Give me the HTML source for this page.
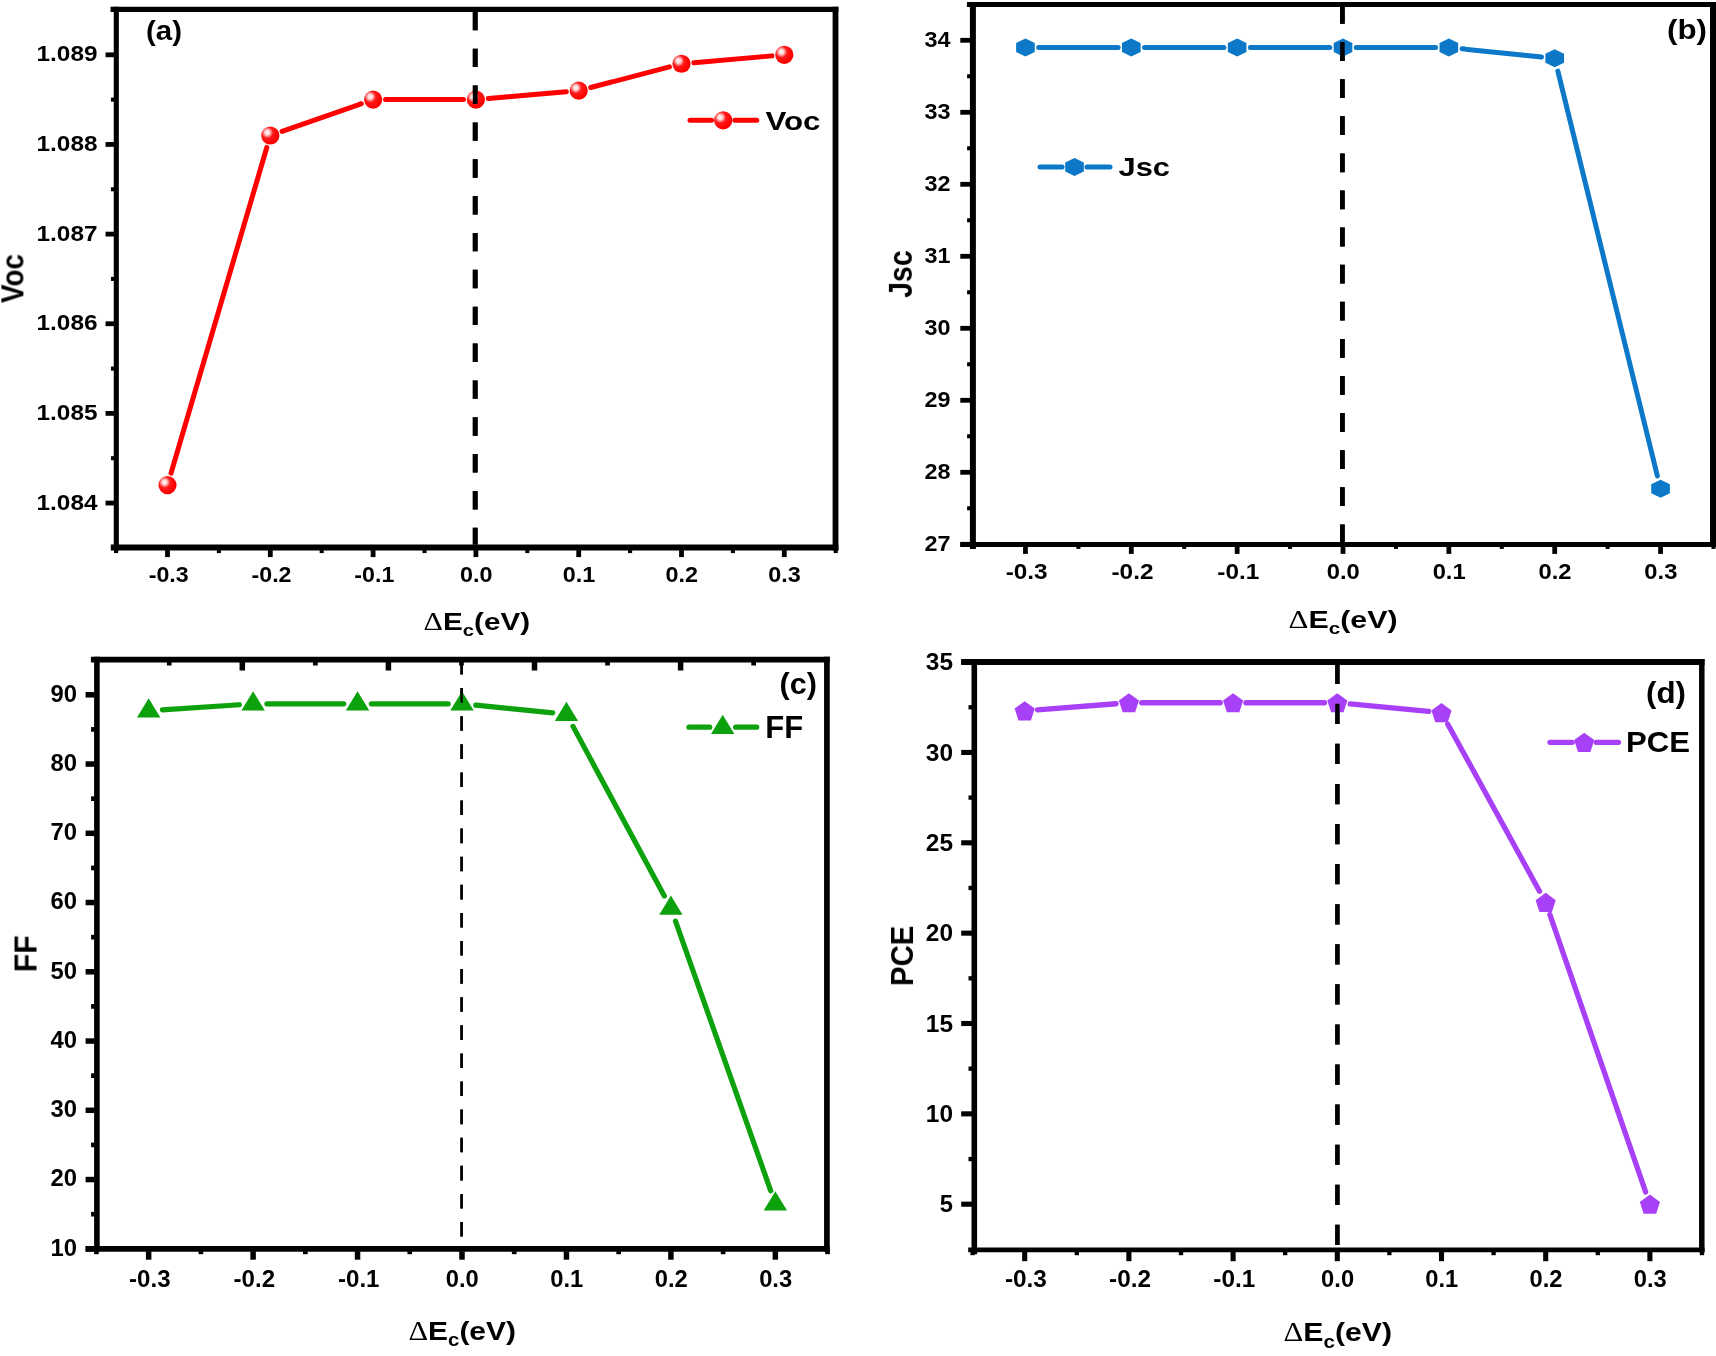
<!DOCTYPE html>
<html><head><meta charset="utf-8"><title>Voc, Jsc, FF and PCE versus conduction band offset</title>
<style>html,body{margin:0;padding:0;background:#fff}body{width:1716px;height:1356px;overflow:hidden}svg{display:block}</style>
</head><body>
<svg width="1716" height="1356" viewBox="0 0 1716 1356" font-family='"Liberation Sans", sans-serif' fill="#000">
<defs><radialGradient id="ball" cx="0.34" cy="0.34" r="0.62" fx="0.34" fy="0.34">
<stop offset="0" stop-color="#ffffff"/><stop offset="0.22" stop-color="#ffd0d0"/><stop offset="0.5" stop-color="#ff1a1a"/><stop offset="1" stop-color="#ff0000"/></radialGradient>
<filter id="soft" x="0" y="0" width="1716" height="1356" filterUnits="userSpaceOnUse"><feGaussianBlur stdDeviation="0.55"/></filter></defs>
<rect width="1716" height="1356" fill="#fff"/>
<g filter="url(#soft)">
<line x1="475.20" y1="11.55" x2="475.20" y2="544.60" stroke="#000" stroke-width="4.8" stroke-dasharray="18.4 18.46" stroke-dashoffset="-0.25"/>
<line x1="171.01" y1="473.18" x2="266.79" y2="147.43" stroke="#ff0000" stroke-width="5.0" stroke-linecap="round"/>
<line x1="282.06" y1="131.38" x2="361.34" y2="103.73" stroke="#ff0000" stroke-width="5.0" stroke-linecap="round"/>
<line x1="385.55" y1="99.62" x2="463.45" y2="99.62" stroke="#ff0000" stroke-width="5.0" stroke-linecap="round"/>
<line x1="488.30" y1="98.54" x2="566.30" y2="91.74" stroke="#ff0000" stroke-width="5.0" stroke-linecap="round"/>
<line x1="590.74" y1="87.51" x2="669.46" y2="66.92" stroke="#ff0000" stroke-width="5.0" stroke-linecap="round"/>
<line x1="693.90" y1="62.68" x2="771.90" y2="55.88" stroke="#ff0000" stroke-width="5.0" stroke-linecap="round"/>
<circle cx="167.50" cy="485.12" r="9.10" fill="url(#ball)"/>
<circle cx="270.30" cy="135.48" r="9.10" fill="url(#ball)"/>
<circle cx="373.10" cy="99.62" r="9.10" fill="url(#ball)"/>
<circle cx="475.90" cy="99.62" r="9.10" fill="url(#ball)"/>
<circle cx="578.70" cy="90.66" r="9.10" fill="url(#ball)"/>
<circle cx="681.50" cy="63.76" r="9.10" fill="url(#ball)"/>
<circle cx="784.30" cy="54.80" r="9.10" fill="url(#ball)"/>
<line x1="475.20" y1="11.55" x2="475.20" y2="544.60" stroke="#000" stroke-width="4.8" stroke-dasharray="18.4 18.46" stroke-dashoffset="-0.25"/>
<line x1="116.30" y1="6.85" x2="116.30" y2="550.60" stroke="#000" stroke-width="5.1" />
<line x1="835.50" y1="6.85" x2="835.50" y2="550.60" stroke="#000" stroke-width="5.8" />
<line x1="110.55" y1="9.45" x2="838.40" y2="9.45" stroke="#000" stroke-width="5.2" />
<line x1="110.75" y1="547.60" x2="838.40" y2="547.60" stroke="#000" stroke-width="6" />
<line x1="105.55" y1="503.05" x2="114.25" y2="503.05" stroke="#000" stroke-width="4.8" />
<line x1="105.55" y1="413.40" x2="114.25" y2="413.40" stroke="#000" stroke-width="4.8" />
<line x1="105.55" y1="323.75" x2="114.25" y2="323.75" stroke="#000" stroke-width="4.8" />
<line x1="105.55" y1="234.10" x2="114.25" y2="234.10" stroke="#000" stroke-width="4.8" />
<line x1="105.55" y1="144.45" x2="114.25" y2="144.45" stroke="#000" stroke-width="4.8" />
<line x1="105.55" y1="54.80" x2="114.25" y2="54.80" stroke="#000" stroke-width="4.8" />
<line x1="110.95" y1="458.22" x2="114.25" y2="458.22" stroke="#000" stroke-width="4.08" />
<line x1="110.95" y1="368.58" x2="114.25" y2="368.58" stroke="#000" stroke-width="4.08" />
<line x1="110.95" y1="278.92" x2="114.25" y2="278.92" stroke="#000" stroke-width="4.08" />
<line x1="110.95" y1="189.28" x2="114.25" y2="189.28" stroke="#000" stroke-width="4.08" />
<line x1="110.95" y1="99.62" x2="114.25" y2="99.62" stroke="#000" stroke-width="4.08" />
<line x1="167.50" y1="550.10" x2="167.50" y2="557.10" stroke="#000" stroke-width="4.8" />
<line x1="270.30" y1="550.10" x2="270.30" y2="557.10" stroke="#000" stroke-width="4.8" />
<line x1="373.10" y1="550.10" x2="373.10" y2="557.10" stroke="#000" stroke-width="4.8" />
<line x1="475.90" y1="550.10" x2="475.90" y2="557.10" stroke="#000" stroke-width="4.8" />
<line x1="578.70" y1="550.10" x2="578.70" y2="557.10" stroke="#000" stroke-width="4.8" />
<line x1="681.50" y1="550.10" x2="681.50" y2="557.10" stroke="#000" stroke-width="4.8" />
<line x1="784.30" y1="550.10" x2="784.30" y2="557.10" stroke="#000" stroke-width="4.8" />
<line x1="116.10" y1="550.10" x2="116.10" y2="553.10" stroke="#000" stroke-width="4.08" />
<line x1="218.90" y1="550.10" x2="218.90" y2="553.10" stroke="#000" stroke-width="4.08" />
<line x1="321.70" y1="550.10" x2="321.70" y2="553.10" stroke="#000" stroke-width="4.08" />
<line x1="424.50" y1="550.10" x2="424.50" y2="553.10" stroke="#000" stroke-width="4.08" />
<line x1="527.30" y1="550.10" x2="527.30" y2="553.10" stroke="#000" stroke-width="4.08" />
<line x1="630.10" y1="550.10" x2="630.10" y2="553.10" stroke="#000" stroke-width="4.08" />
<line x1="732.90" y1="550.10" x2="732.90" y2="553.10" stroke="#000" stroke-width="4.08" />
<line x1="835.70" y1="550.10" x2="835.70" y2="553.10" stroke="#000" stroke-width="4.08" />
<text transform="translate(36.50,509.52) scale(1.0931,1)" font-size="22.3" font-weight="bold" >1.084</text>
<text transform="translate(36.50,419.87) scale(1.0931,1)" font-size="22.3" font-weight="bold" >1.085</text>
<text transform="translate(36.50,330.22) scale(1.0931,1)" font-size="22.3" font-weight="bold" >1.086</text>
<text transform="translate(36.50,240.57) scale(1.0931,1)" font-size="22.3" font-weight="bold" >1.087</text>
<text transform="translate(36.50,150.92) scale(1.0931,1)" font-size="22.3" font-weight="bold" >1.088</text>
<text transform="translate(36.50,61.27) scale(1.0931,1)" font-size="22.3" font-weight="bold" >1.089</text>
<text transform="translate(148.70,582.40) scale(1.0410,1)" font-size="22.3" font-weight="bold" >-0.3</text>
<text transform="translate(251.50,582.40) scale(1.0410,1)" font-size="22.3" font-weight="bold" >-0.2</text>
<text transform="translate(354.30,582.40) scale(1.0410,1)" font-size="22.3" font-weight="bold" >-0.1</text>
<text transform="translate(459.95,582.40) scale(1.0484,1)" font-size="22.3" font-weight="bold" >0.0</text>
<text transform="translate(562.75,582.40) scale(1.0484,1)" font-size="22.3" font-weight="bold" >0.1</text>
<text transform="translate(665.55,582.40) scale(1.0484,1)" font-size="22.3" font-weight="bold" >0.2</text>
<text transform="translate(768.35,582.40) scale(1.0484,1)" font-size="22.3" font-weight="bold" >0.3</text>
<text transform="translate(423.60,629.50) scale(1.2096,1)" font-size="24.5" font-weight="bold"><tspan font-family="'Liberation Serif', serif" font-weight="normal" font-size="25.0">Δ</tspan><tspan>E</tspan><tspan font-size="16.7" dy="6.1">c</tspan><tspan dy="-6.1">(eV)</tspan></text>
<text transform="translate(23.50,278.50) scale(1.115,1) rotate(-90)" font-size="27.8" font-weight="bold" text-anchor="middle">Voc</text>
<line x1="690.00" y1="120.30" x2="711.55" y2="120.30" stroke="#ff0000" stroke-width="5.0" stroke-linecap="round"/>
<line x1="734.85" y1="120.30" x2="756.80" y2="120.30" stroke="#ff0000" stroke-width="5.0" stroke-linecap="round"/>
<circle cx="723.20" cy="120.30" r="9.10" fill="url(#ball)"/>
<text transform="translate(765.50,129.60) scale(1.2256,1)" font-size="25.5" font-weight="bold" >Voc</text>
<text transform="translate(146.00,40.00) scale(1.0991,1)" font-size="26.8" font-weight="bold" >(a)</text>
<line x1="1342.40" y1="6.50" x2="1342.40" y2="541.90" stroke="#000" stroke-width="4.6" stroke-dasharray="18.8 18.3" stroke-dashoffset="1.50"/>
<line x1="1038.70" y1="47.50" x2="1118.05" y2="47.50" stroke="#0878c8" stroke-width="5.0" stroke-linecap="round"/>
<line x1="1144.55" y1="47.50" x2="1223.90" y2="47.50" stroke="#0878c8" stroke-width="5.0" stroke-linecap="round"/>
<line x1="1250.40" y1="47.50" x2="1329.75" y2="47.50" stroke="#0878c8" stroke-width="5.0" stroke-linecap="round"/>
<line x1="1356.25" y1="47.50" x2="1435.60" y2="47.50" stroke="#0878c8" stroke-width="5.0" stroke-linecap="round"/>
<line x1="1462.03" y1="48.84" x2="1541.52" y2="56.96" stroke="#0878c8" stroke-width="5.0" stroke-linecap="round"/>
<line x1="1557.86" y1="71.17" x2="1657.39" y2="475.99" stroke="#0878c8" stroke-width="5.0" stroke-linecap="round"/>
<polygon points="1025.45,38.50 1034.75,43.00 1034.75,52.00 1025.45,56.50 1016.15,52.00 1016.15,43.00" fill="#0878c8"/>
<polygon points="1131.30,38.50 1140.60,43.00 1140.60,52.00 1131.30,56.50 1122.00,52.00 1122.00,43.00" fill="#0878c8"/>
<polygon points="1237.15,38.50 1246.45,43.00 1246.45,52.00 1237.15,56.50 1227.85,52.00 1227.85,43.00" fill="#0878c8"/>
<polygon points="1343.00,38.50 1352.30,43.00 1352.30,52.00 1343.00,56.50 1333.70,52.00 1333.70,43.00" fill="#0878c8"/>
<polygon points="1448.85,38.50 1458.15,43.00 1458.15,52.00 1448.85,56.50 1439.55,52.00 1439.55,43.00" fill="#0878c8"/>
<polygon points="1554.70,49.30 1564.00,53.80 1564.00,62.80 1554.70,67.30 1545.40,62.80 1545.40,53.80" fill="#0878c8"/>
<polygon points="1660.55,479.86 1669.85,484.36 1669.85,493.36 1660.55,497.86 1651.25,493.36 1651.25,484.36" fill="#0878c8"/>
<line x1="1342.40" y1="6.50" x2="1342.40" y2="541.90" stroke="#000" stroke-width="4.6" stroke-dasharray="18.8 18.3" stroke-dashoffset="1.50"/>
<line x1="972.90" y1="2.00" x2="972.90" y2="548.90" stroke="#000" stroke-width="6.0" />
<line x1="1713.00" y1="2.00" x2="1713.00" y2="546.90" stroke="#000" stroke-width="6" />
<line x1="966.90" y1="4.50" x2="1716.00" y2="4.50" stroke="#000" stroke-width="5" />
<line x1="960.30" y1="544.40" x2="1716.00" y2="544.40" stroke="#000" stroke-width="5" />
<line x1="960.30" y1="544.30" x2="970.40" y2="544.30" stroke="#000" stroke-width="4.8" />
<line x1="960.30" y1="472.30" x2="970.40" y2="472.30" stroke="#000" stroke-width="4.8" />
<line x1="960.30" y1="400.30" x2="970.40" y2="400.30" stroke="#000" stroke-width="4.8" />
<line x1="960.30" y1="328.30" x2="970.40" y2="328.30" stroke="#000" stroke-width="4.8" />
<line x1="960.30" y1="256.30" x2="970.40" y2="256.30" stroke="#000" stroke-width="4.8" />
<line x1="960.30" y1="184.30" x2="970.40" y2="184.30" stroke="#000" stroke-width="4.8" />
<line x1="960.30" y1="112.30" x2="970.40" y2="112.30" stroke="#000" stroke-width="4.8" />
<line x1="960.30" y1="40.30" x2="970.40" y2="40.30" stroke="#000" stroke-width="4.8" />
<line x1="967.10" y1="508.30" x2="970.40" y2="508.30" stroke="#000" stroke-width="4.08" />
<line x1="967.10" y1="436.30" x2="970.40" y2="436.30" stroke="#000" stroke-width="4.08" />
<line x1="967.10" y1="364.30" x2="970.40" y2="364.30" stroke="#000" stroke-width="4.08" />
<line x1="967.10" y1="292.30" x2="970.40" y2="292.30" stroke="#000" stroke-width="4.08" />
<line x1="967.10" y1="220.30" x2="970.40" y2="220.30" stroke="#000" stroke-width="4.08" />
<line x1="967.10" y1="148.30" x2="970.40" y2="148.30" stroke="#000" stroke-width="4.08" />
<line x1="967.10" y1="76.30" x2="970.40" y2="76.30" stroke="#000" stroke-width="4.08" />
<line x1="1025.45" y1="546.40" x2="1025.45" y2="553.90" stroke="#000" stroke-width="4.8" />
<line x1="1131.30" y1="546.40" x2="1131.30" y2="553.90" stroke="#000" stroke-width="4.8" />
<line x1="1237.15" y1="546.40" x2="1237.15" y2="553.90" stroke="#000" stroke-width="4.8" />
<line x1="1343.00" y1="546.40" x2="1343.00" y2="553.90" stroke="#000" stroke-width="4.8" />
<line x1="1448.85" y1="546.40" x2="1448.85" y2="553.90" stroke="#000" stroke-width="4.8" />
<line x1="1554.70" y1="546.40" x2="1554.70" y2="553.90" stroke="#000" stroke-width="4.8" />
<line x1="1660.55" y1="546.40" x2="1660.55" y2="553.90" stroke="#000" stroke-width="4.8" />
<line x1="972.53" y1="546.40" x2="972.53" y2="548.90" stroke="#000" stroke-width="4.08" />
<line x1="1078.38" y1="546.40" x2="1078.38" y2="548.90" stroke="#000" stroke-width="4.08" />
<line x1="1184.22" y1="546.40" x2="1184.22" y2="548.90" stroke="#000" stroke-width="4.08" />
<line x1="1290.08" y1="546.40" x2="1290.08" y2="548.90" stroke="#000" stroke-width="4.08" />
<line x1="1395.92" y1="546.40" x2="1395.92" y2="548.90" stroke="#000" stroke-width="4.08" />
<line x1="1501.78" y1="546.40" x2="1501.78" y2="548.90" stroke="#000" stroke-width="4.08" />
<line x1="1607.62" y1="546.40" x2="1607.62" y2="548.90" stroke="#000" stroke-width="4.08" />
<line x1="1713.47" y1="546.40" x2="1713.47" y2="548.90" stroke="#000" stroke-width="4.08" />
<text transform="translate(924.50,550.87) scale(1.0343,1)" font-size="22.6" font-weight="bold" >27</text>
<text transform="translate(924.50,478.87) scale(1.0343,1)" font-size="22.6" font-weight="bold" >28</text>
<text transform="translate(924.50,406.87) scale(1.0343,1)" font-size="22.6" font-weight="bold" >29</text>
<text transform="translate(924.50,334.87) scale(1.0343,1)" font-size="22.6" font-weight="bold" >30</text>
<text transform="translate(924.50,262.87) scale(1.0343,1)" font-size="22.6" font-weight="bold" >31</text>
<text transform="translate(924.50,190.87) scale(1.0343,1)" font-size="22.6" font-weight="bold" >32</text>
<text transform="translate(924.50,118.87) scale(1.0343,1)" font-size="22.6" font-weight="bold" >33</text>
<text transform="translate(924.50,46.87) scale(1.0343,1)" font-size="22.6" font-weight="bold" >34</text>
<text transform="translate(1005.65,579.40) scale(1.0785,1)" font-size="22.6" font-weight="bold" >-0.3</text>
<text transform="translate(1111.50,579.40) scale(1.0785,1)" font-size="22.6" font-weight="bold" >-0.2</text>
<text transform="translate(1217.35,579.40) scale(1.0785,1)" font-size="22.6" font-weight="bold" >-0.1</text>
<text transform="translate(1326.80,579.40) scale(1.0504,1)" font-size="22.6" font-weight="bold" >0.0</text>
<text transform="translate(1432.65,579.40) scale(1.0504,1)" font-size="22.6" font-weight="bold" >0.1</text>
<text transform="translate(1538.50,579.40) scale(1.0504,1)" font-size="22.6" font-weight="bold" >0.2</text>
<text transform="translate(1644.35,579.40) scale(1.0504,1)" font-size="22.6" font-weight="bold" >0.3</text>
<text transform="translate(1288.50,628.20) scale(1.2392,1)" font-size="24.5" font-weight="bold"><tspan font-family="'Liberation Serif', serif" font-weight="normal" font-size="25.0">Δ</tspan><tspan>E</tspan><tspan font-size="16.7" dy="6.1">c</tspan><tspan dy="-6.1">(eV)</tspan></text>
<text transform="translate(912.30,274.10) scale(1.157,1) rotate(-90)" font-size="28.4" font-weight="bold" text-anchor="middle">Jsc</text>
<line x1="1040.00" y1="167.00" x2="1062.05" y2="167.00" stroke="#0878c8" stroke-width="5.0" stroke-linecap="round"/>
<line x1="1086.95" y1="167.00" x2="1110.00" y2="167.00" stroke="#0878c8" stroke-width="5.0" stroke-linecap="round"/>
<polygon points="1074.50,158.00 1083.80,162.50 1083.80,171.50 1074.50,176.00 1065.20,171.50 1065.20,162.50" fill="#0878c8"/>
<text transform="translate(1118.50,175.80) scale(1.2105,1)" font-size="25.5" font-weight="bold" >Jsc</text>
<text transform="translate(1667.00,39.30) scale(1.1689,1)" font-size="26.8" font-weight="bold" >(b)</text>
<line x1="461.60" y1="662.00" x2="461.60" y2="1245.90" stroke="#000" stroke-width="2.4" stroke-dasharray="14.6 13.5" stroke-dashoffset="2.00"/>
<line x1="162.44" y1="709.81" x2="239.31" y2="704.72" stroke="#0da10d" stroke-width="5.2" stroke-linecap="round"/>
<line x1="266.92" y1="703.80" x2="343.73" y2="703.80" stroke="#0da10d" stroke-width="5.2" stroke-linecap="round"/>
<line x1="371.37" y1="703.80" x2="448.18" y2="703.80" stroke="#0da10d" stroke-width="5.2" stroke-linecap="round"/>
<line x1="475.75" y1="705.17" x2="552.70" y2="712.82" stroke="#0da10d" stroke-width="5.2" stroke-linecap="round"/>
<line x1="573.00" y1="726.36" x2="664.35" y2="895.92" stroke="#0da10d" stroke-width="5.2" stroke-linecap="round"/>
<line x1="675.50" y1="921.12" x2="770.75" y2="1190.76" stroke="#0da10d" stroke-width="5.2" stroke-linecap="round"/>
<polygon points="148.65,698.25 160.35,717.45 136.95,717.45" fill="#0da10d"/>
<polygon points="253.10,691.32 264.80,710.52 241.40,710.52" fill="#0da10d"/>
<polygon points="357.55,691.32 369.25,710.52 345.85,710.52" fill="#0da10d"/>
<polygon points="462.00,691.32 473.70,710.52 450.30,710.52" fill="#0da10d"/>
<polygon points="566.45,701.71 578.15,720.91 554.75,720.91" fill="#0da10d"/>
<polygon points="670.90,895.61 682.60,914.81 659.20,914.81" fill="#0da10d"/>
<polygon points="775.35,1191.31 787.05,1210.51 763.65,1210.51" fill="#0da10d"/>
<line x1="461.60" y1="662.00" x2="461.60" y2="1245.90" stroke="#000" stroke-width="2.4" stroke-dasharray="14.6 13.5" stroke-dashoffset="2.00"/>
<line x1="96.90" y1="656.70" x2="96.90" y2="1251.70" stroke="#000" stroke-width="5.6" />
<line x1="826.90" y1="656.70" x2="826.90" y2="1251.70" stroke="#000" stroke-width="5.7" />
<line x1="90.90" y1="659.60" x2="829.75" y2="659.60" stroke="#000" stroke-width="5.8" />
<line x1="85.60" y1="1248.80" x2="829.75" y2="1248.80" stroke="#000" stroke-width="5.8" />
<line x1="85.60" y1="1248.80" x2="94.60" y2="1248.80" stroke="#000" stroke-width="5.5" />
<line x1="85.60" y1="1179.55" x2="94.60" y2="1179.55" stroke="#000" stroke-width="5.5" />
<line x1="85.60" y1="1110.30" x2="94.60" y2="1110.30" stroke="#000" stroke-width="5.5" />
<line x1="85.60" y1="1041.05" x2="94.60" y2="1041.05" stroke="#000" stroke-width="5.5" />
<line x1="85.60" y1="971.80" x2="94.60" y2="971.80" stroke="#000" stroke-width="5.5" />
<line x1="85.60" y1="902.55" x2="94.60" y2="902.55" stroke="#000" stroke-width="5.5" />
<line x1="85.60" y1="833.30" x2="94.60" y2="833.30" stroke="#000" stroke-width="5.5" />
<line x1="85.60" y1="764.05" x2="94.60" y2="764.05" stroke="#000" stroke-width="5.5" />
<line x1="85.60" y1="694.80" x2="94.60" y2="694.80" stroke="#000" stroke-width="5.5" />
<line x1="91.10" y1="1214.17" x2="94.60" y2="1214.17" stroke="#000" stroke-width="4.675" />
<line x1="91.10" y1="1144.92" x2="94.60" y2="1144.92" stroke="#000" stroke-width="4.675" />
<line x1="91.10" y1="1075.67" x2="94.60" y2="1075.67" stroke="#000" stroke-width="4.675" />
<line x1="91.10" y1="1006.42" x2="94.60" y2="1006.42" stroke="#000" stroke-width="4.675" />
<line x1="91.10" y1="937.17" x2="94.60" y2="937.17" stroke="#000" stroke-width="4.675" />
<line x1="91.10" y1="867.92" x2="94.60" y2="867.92" stroke="#000" stroke-width="4.675" />
<line x1="91.10" y1="798.67" x2="94.60" y2="798.67" stroke="#000" stroke-width="4.675" />
<line x1="91.10" y1="729.42" x2="94.60" y2="729.42" stroke="#000" stroke-width="4.675" />
<line x1="148.65" y1="1251.20" x2="148.65" y2="1259.70" stroke="#000" stroke-width="5.5" />
<line x1="253.10" y1="1251.20" x2="253.10" y2="1259.70" stroke="#000" stroke-width="5.5" />
<line x1="357.55" y1="1251.20" x2="357.55" y2="1259.70" stroke="#000" stroke-width="5.5" />
<line x1="462.00" y1="1251.20" x2="462.00" y2="1259.70" stroke="#000" stroke-width="5.5" />
<line x1="566.45" y1="1251.20" x2="566.45" y2="1259.70" stroke="#000" stroke-width="5.5" />
<line x1="670.90" y1="1251.20" x2="670.90" y2="1259.70" stroke="#000" stroke-width="5.5" />
<line x1="775.35" y1="1251.20" x2="775.35" y2="1259.70" stroke="#000" stroke-width="5.5" />
<line x1="96.43" y1="1251.20" x2="96.43" y2="1254.20" stroke="#000" stroke-width="4.675" />
<line x1="200.88" y1="1251.20" x2="200.88" y2="1254.20" stroke="#000" stroke-width="4.675" />
<line x1="305.33" y1="1251.20" x2="305.33" y2="1254.20" stroke="#000" stroke-width="4.675" />
<line x1="409.77" y1="1251.20" x2="409.77" y2="1254.20" stroke="#000" stroke-width="4.675" />
<line x1="514.23" y1="1251.20" x2="514.23" y2="1254.20" stroke="#000" stroke-width="4.675" />
<line x1="618.67" y1="1251.20" x2="618.67" y2="1254.20" stroke="#000" stroke-width="4.675" />
<line x1="723.12" y1="1251.20" x2="723.12" y2="1254.20" stroke="#000" stroke-width="4.675" />
<line x1="827.58" y1="1251.20" x2="827.58" y2="1254.20" stroke="#000" stroke-width="4.675" />
<line x1="169.25" y1="662.00" x2="169.25" y2="665.50" stroke="#000" stroke-width="4.675" />
<line x1="242.30" y1="662.00" x2="242.30" y2="670.50" stroke="#000" stroke-width="5.5" />
<line x1="315.35" y1="662.00" x2="315.35" y2="665.50" stroke="#000" stroke-width="4.675" />
<line x1="388.40" y1="662.00" x2="388.40" y2="670.50" stroke="#000" stroke-width="5.5" />
<line x1="461.45" y1="662.00" x2="461.45" y2="665.50" stroke="#000" stroke-width="4.675" />
<line x1="534.50" y1="662.00" x2="534.50" y2="670.50" stroke="#000" stroke-width="5.5" />
<line x1="607.55" y1="662.00" x2="607.55" y2="665.50" stroke="#000" stroke-width="4.675" />
<line x1="680.60" y1="662.00" x2="680.60" y2="670.50" stroke="#000" stroke-width="5.5" />
<line x1="753.65" y1="662.00" x2="753.65" y2="665.50" stroke="#000" stroke-width="4.675" />
<text transform="translate(50.50,1255.64) scale(0.9804,1)" font-size="24.3" font-weight="bold" >10</text>
<text transform="translate(50.50,1186.39) scale(0.9804,1)" font-size="24.3" font-weight="bold" >20</text>
<text transform="translate(50.50,1117.14) scale(0.9804,1)" font-size="24.3" font-weight="bold" >30</text>
<text transform="translate(50.50,1047.89) scale(0.9804,1)" font-size="24.3" font-weight="bold" >40</text>
<text transform="translate(50.50,978.64) scale(0.9804,1)" font-size="24.3" font-weight="bold" >50</text>
<text transform="translate(50.50,909.39) scale(0.9804,1)" font-size="24.3" font-weight="bold" >60</text>
<text transform="translate(50.50,840.14) scale(0.9804,1)" font-size="24.3" font-weight="bold" >70</text>
<text transform="translate(50.50,770.89) scale(0.9804,1)" font-size="24.3" font-weight="bold" >80</text>
<text transform="translate(50.50,701.64) scale(0.9804,1)" font-size="24.3" font-weight="bold" >90</text>
<text transform="translate(129.10,1286.70) scale(0.9911,1)" font-size="24.3" font-weight="bold" >-0.3</text>
<text transform="translate(233.55,1286.70) scale(0.9911,1)" font-size="24.3" font-weight="bold" >-0.2</text>
<text transform="translate(338.00,1286.70) scale(0.9911,1)" font-size="24.3" font-weight="bold" >-0.1</text>
<text transform="translate(445.80,1286.70) scale(0.9769,1)" font-size="24.3" font-weight="bold" >0.0</text>
<text transform="translate(550.25,1286.70) scale(0.9769,1)" font-size="24.3" font-weight="bold" >0.1</text>
<text transform="translate(654.70,1286.70) scale(0.9769,1)" font-size="24.3" font-weight="bold" >0.2</text>
<text transform="translate(759.15,1286.70) scale(0.9769,1)" font-size="24.3" font-weight="bold" >0.3</text>
<text transform="translate(408.40,1339.50) scale(1.1527,1)" font-size="26" font-weight="bold"><tspan font-family="'Liberation Serif', serif" font-weight="normal" font-size="26.5">Δ</tspan><tspan>E</tspan><tspan font-size="17.7" dy="6.5">c</tspan><tspan dy="-6.5">(eV)</tspan></text>
<text transform="translate(36.50,953.70) scale(1.035,1) rotate(-90)" font-size="30.1" font-weight="bold" text-anchor="middle">FF</text>
<line x1="688.98" y1="727.20" x2="709.68" y2="727.20" stroke="#0da10d" stroke-width="5.2" stroke-linecap="round"/>
<line x1="735.72" y1="727.20" x2="756.72" y2="727.20" stroke="#0da10d" stroke-width="5.2" stroke-linecap="round"/>
<polygon points="722.70,714.72 734.40,733.92 711.00,733.92" fill="#0da10d"/>
<text transform="translate(765.20,738.00) scale(1.0072,1)" font-size="30.8" font-weight="bold" >FF</text>
<text transform="translate(779.50,693.50) scale(1.0401,1)" font-size="29.5" font-weight="bold" >(c)</text>
<line x1="1337.40" y1="664.40" x2="1337.40" y2="1247.60" stroke="#000" stroke-width="4.3" stroke-dasharray="20.2 19.88" stroke-dashoffset="0.70"/>
<line x1="1037.52" y1="709.89" x2="1116.08" y2="703.76" stroke="#a840f8" stroke-width="5.3" stroke-linecap="round"/>
<line x1="1141.75" y1="702.76" x2="1220.24" y2="702.76" stroke="#a840f8" stroke-width="5.3" stroke-linecap="round"/>
<line x1="1245.95" y1="702.76" x2="1324.44" y2="702.76" stroke="#a840f8" stroke-width="5.3" stroke-linecap="round"/>
<line x1="1350.10" y1="703.98" x2="1428.70" y2="711.48" stroke="#a840f8" stroke-width="5.3" stroke-linecap="round"/>
<line x1="1447.69" y1="723.96" x2="1539.51" y2="891.16" stroke="#a840f8" stroke-width="5.3" stroke-linecap="round"/>
<line x1="1549.90" y1="914.58" x2="1645.70" y2="1192.05" stroke="#a840f8" stroke-width="5.3" stroke-linecap="round"/>
<polygon points="1024.70,701.29 1034.78,708.61 1030.93,720.46 1018.47,720.46 1014.62,708.61" fill="#a840f8"/>
<polygon points="1128.90,693.16 1138.98,700.48 1135.13,712.33 1122.67,712.33 1118.82,700.48" fill="#a840f8"/>
<polygon points="1233.10,693.16 1243.18,700.48 1239.33,712.33 1226.87,712.33 1223.02,700.48" fill="#a840f8"/>
<polygon points="1337.30,693.16 1347.38,700.48 1343.53,712.33 1331.07,712.33 1327.22,700.48" fill="#a840f8"/>
<polygon points="1441.50,703.10 1451.58,710.42 1447.73,722.27 1435.27,722.27 1431.42,710.42" fill="#a840f8"/>
<polygon points="1545.70,892.83 1555.78,900.16 1551.93,912.01 1539.47,912.01 1535.62,900.16" fill="#a840f8"/>
<polygon points="1649.90,1194.60 1659.98,1201.92 1656.13,1213.78 1643.67,1213.78 1639.82,1201.92" fill="#a840f8"/>
<line x1="1337.40" y1="664.40" x2="1337.40" y2="1247.60" stroke="#000" stroke-width="4.3" stroke-dasharray="20.2 19.88" stroke-dashoffset="0.70"/>
<line x1="974.30" y1="658.90" x2="974.30" y2="1254.20" stroke="#000" stroke-width="5.6" />
<line x1="1701.80" y1="658.90" x2="1701.80" y2="1252.20" stroke="#000" stroke-width="5.5" />
<line x1="961.20" y1="661.90" x2="1704.55" y2="661.90" stroke="#000" stroke-width="6" />
<line x1="968.20" y1="1249.90" x2="1704.55" y2="1249.90" stroke="#000" stroke-width="4.6" />
<line x1="961.20" y1="1204.20" x2="972.00" y2="1204.20" stroke="#000" stroke-width="5.1" />
<line x1="961.20" y1="1113.85" x2="972.00" y2="1113.85" stroke="#000" stroke-width="5.1" />
<line x1="961.20" y1="1023.50" x2="972.00" y2="1023.50" stroke="#000" stroke-width="5.1" />
<line x1="961.20" y1="933.15" x2="972.00" y2="933.15" stroke="#000" stroke-width="5.1" />
<line x1="961.20" y1="842.80" x2="972.00" y2="842.80" stroke="#000" stroke-width="5.1" />
<line x1="961.20" y1="752.45" x2="972.00" y2="752.45" stroke="#000" stroke-width="5.1" />
<line x1="961.20" y1="662.10" x2="972.00" y2="662.10" stroke="#000" stroke-width="5.1" />
<line x1="968.50" y1="1159.03" x2="972.00" y2="1159.03" stroke="#000" stroke-width="4.335" />
<line x1="968.50" y1="1068.67" x2="972.00" y2="1068.67" stroke="#000" stroke-width="4.335" />
<line x1="968.50" y1="978.33" x2="972.00" y2="978.33" stroke="#000" stroke-width="4.335" />
<line x1="968.50" y1="887.98" x2="972.00" y2="887.98" stroke="#000" stroke-width="4.335" />
<line x1="968.50" y1="797.62" x2="972.00" y2="797.62" stroke="#000" stroke-width="4.335" />
<line x1="968.50" y1="707.28" x2="972.00" y2="707.28" stroke="#000" stroke-width="4.335" />
<line x1="1024.70" y1="1251.70" x2="1024.70" y2="1261.20" stroke="#000" stroke-width="5.1" />
<line x1="1128.90" y1="1251.70" x2="1128.90" y2="1261.20" stroke="#000" stroke-width="5.1" />
<line x1="1233.10" y1="1251.70" x2="1233.10" y2="1261.20" stroke="#000" stroke-width="5.1" />
<line x1="1337.30" y1="1251.70" x2="1337.30" y2="1261.20" stroke="#000" stroke-width="5.1" />
<line x1="1441.50" y1="1251.70" x2="1441.50" y2="1261.20" stroke="#000" stroke-width="5.1" />
<line x1="1545.70" y1="1251.70" x2="1545.70" y2="1261.20" stroke="#000" stroke-width="5.1" />
<line x1="1649.90" y1="1251.70" x2="1649.90" y2="1261.20" stroke="#000" stroke-width="5.1" />
<line x1="972.60" y1="1251.70" x2="972.60" y2="1255.20" stroke="#000" stroke-width="4.335" />
<line x1="1076.80" y1="1251.70" x2="1076.80" y2="1255.20" stroke="#000" stroke-width="4.335" />
<line x1="1181.00" y1="1251.70" x2="1181.00" y2="1255.20" stroke="#000" stroke-width="4.335" />
<line x1="1285.20" y1="1251.70" x2="1285.20" y2="1255.20" stroke="#000" stroke-width="4.335" />
<line x1="1389.40" y1="1251.70" x2="1389.40" y2="1255.20" stroke="#000" stroke-width="4.335" />
<line x1="1493.60" y1="1251.70" x2="1493.60" y2="1255.20" stroke="#000" stroke-width="4.335" />
<line x1="1597.80" y1="1251.70" x2="1597.80" y2="1255.20" stroke="#000" stroke-width="4.335" />
<line x1="1702.00" y1="1251.70" x2="1702.00" y2="1255.20" stroke="#000" stroke-width="4.335" />
<text transform="translate(939.80,1212.34) scale(0.9889,1)" font-size="24" font-weight="bold" >5</text>
<text transform="translate(925.80,1121.99) scale(1.0189,1)" font-size="24" font-weight="bold" >10</text>
<text transform="translate(925.80,1031.64) scale(1.0189,1)" font-size="24" font-weight="bold" >15</text>
<text transform="translate(925.80,941.29) scale(1.0189,1)" font-size="24" font-weight="bold" >20</text>
<text transform="translate(925.80,850.94) scale(1.0189,1)" font-size="24" font-weight="bold" >25</text>
<text transform="translate(925.80,760.59) scale(1.0189,1)" font-size="24" font-weight="bold" >30</text>
<text transform="translate(925.80,670.24) scale(1.0189,1)" font-size="24" font-weight="bold" >35</text>
<text transform="translate(1004.90,1286.70) scale(1.0156,1)" font-size="24" font-weight="bold" >-0.3</text>
<text transform="translate(1109.10,1286.70) scale(1.0156,1)" font-size="24" font-weight="bold" >-0.2</text>
<text transform="translate(1213.30,1286.70) scale(1.0156,1)" font-size="24" font-weight="bold" >-0.1</text>
<text transform="translate(1321.10,1286.70) scale(0.9891,1)" font-size="24" font-weight="bold" >0.0</text>
<text transform="translate(1425.30,1286.70) scale(0.9891,1)" font-size="24" font-weight="bold" >0.1</text>
<text transform="translate(1529.50,1286.70) scale(0.9891,1)" font-size="24" font-weight="bold" >0.2</text>
<text transform="translate(1633.70,1286.70) scale(0.9891,1)" font-size="24" font-weight="bold" >0.3</text>
<text transform="translate(1283.50,1341.00) scale(1.1623,1)" font-size="26" font-weight="bold"><tspan font-family="'Liberation Serif', serif" font-weight="normal" font-size="26.5">Δ</tspan><tspan>E</tspan><tspan font-size="17.7" dy="6.5">c</tspan><tspan dy="-6.5">(eV)</tspan></text>
<text transform="translate(913.20,955.80) scale(1.078,1) rotate(-90)" font-size="29.4" font-weight="bold" text-anchor="middle">PCE</text>
<line x1="1550.02" y1="742.30" x2="1572.14" y2="742.30" stroke="#a840f8" stroke-width="5.3" stroke-linecap="round"/>
<line x1="1596.26" y1="742.30" x2="1618.48" y2="742.30" stroke="#a840f8" stroke-width="5.3" stroke-linecap="round"/>
<polygon points="1584.20,732.70 1594.28,740.02 1590.43,751.88 1577.97,751.88 1574.12,740.02" fill="#a840f8"/>
<text transform="translate(1626.00,752.00) scale(1.0845,1)" font-size="28.7" font-weight="bold" >PCE</text>
<text transform="translate(1646.00,703.20) scale(1.0619,1)" font-size="29.5" font-weight="bold" >(d)</text>
</g>
</svg>
</body></html>
